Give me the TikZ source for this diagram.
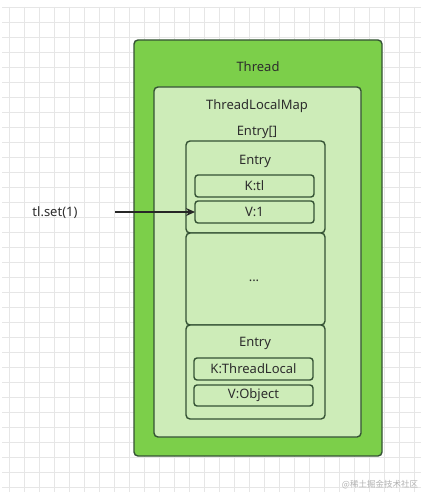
\documentclass[tikz,border=0pt]{standalone}
\usepackage{fontspec}
\setmainfont{Noto Sans}
\newfontfamily\cjkfont{Noto Sans CJK SC}
\usetikzlibrary{arrows.meta}
\definecolor{gridc}{RGB}{230,230,230}
\definecolor{threadfill}{RGB}{124,207,74}
\definecolor{mapfill}{RGB}{205,236,184}
\definecolor{edgec}{RGB}{52,82,52}
\definecolor{txtc}{RGB}{45,45,45}
\tikzset{
  box/.style={draw=edgec, line width=1.4pt, rounded corners=4pt, inner sep=0pt, outer sep=0pt},
  kvbox/.style={box, fill=mapfill, rounded corners=3pt, minimum width=119pt, text=txtc, font=\fontsize{13}{15}\selectfont},
  lbl/.style={text=txtc, font=\fontsize{13}{15}\selectfont, inner sep=0pt},
  arr/.style={-{Stealth[length=9pt,width=8pt]}, line width=1.3pt, draw=black!85},
}
\begin{document}
\begin{tikzpicture}[x=1pt,y=-1pt]
\useasboundingbox[fill=white] (0,0) rectangle (439,494);
% grid
\foreach \x in {9,24,...,420} \draw[gridc, line width=0.7pt] (\x,7) -- (\x,492);
\foreach \y in {7,22,...,492} \draw[gridc, line width=0.7pt] (2,\y) -- (421,\y);
% boxes
\node[box, fill=threadfill, minimum width=248pt, minimum height=416pt] (thread) at (258,248) {};
\node[box, fill=mapfill, minimum width=207pt, minimum height=350pt] (map) at (257.5,262) {};
\node[box, fill=mapfill, minimum width=139pt, minimum height=92pt] (entry1) at (255.5,187) {};
\node[box, fill=mapfill, minimum width=139pt, minimum height=92pt] (mid) at (255.5,279) {};
\node[box, fill=mapfill, minimum width=139pt, minimum height=94pt] (entry2) at (255.5,372) {};
\node[kvbox, minimum height=22pt] (ktl) at (254.5,186) {K:tl};
\node[kvbox, minimum height=22pt] (v1) at (254.5,212) {V:1};
\node[kvbox, minimum height=22pt] (ktlocal) at (253.5,369) {K:ThreadLocal};
\node[kvbox, minimum height=21pt] (vobj) at (253.5,395.5) {V:Object};
% labels
\node[lbl] (tthread) at (258,67) {Thread};
\node[lbl] (tmap) at (257,106) {ThreadLocalMap};
\node[lbl] (tarr) at (257,132) {Entry[]};
\node[lbl] (te1) at (255,161) {Entry};
\node[lbl] (tdots) at (254,281) {...};
\node[lbl] (te2) at (255,343) {Entry};
\node[lbl] (tset) at (55,213) {tl.set(1)};
% arrow
\coordinate (astart) at (115,212);
\draw[arr] (astart) -- (v1.west);
% watermark
\node[text=black!30, font=\cjkfont\fontsize{8.5}{10}\selectfont, inner sep=0pt] (wm) at (380,485) {@稀土掘金技术社区};
\end{tikzpicture}
\end{document}
